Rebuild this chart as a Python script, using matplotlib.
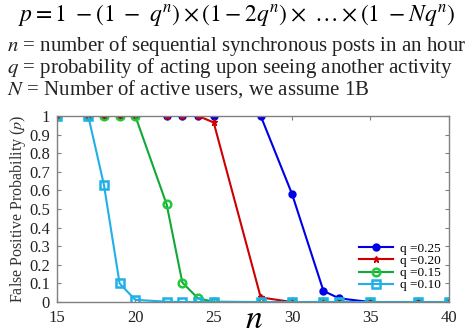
import matplotlib
matplotlib.use("Agg")
import matplotlib.pyplot as plt

n_vals = [15, 17, 18, 19, 20, 22, 23, 24, 25, 28, 30, 32, 33, 35, 38, 40]
p_q025 = [1, 1, 1, 1, 1, 1, 1, 1, 1, 1, 0.58, 0.06, 0.02, 0.0, 0.0, 0.0]
p_q020 = [1, 1, 1, 1, 1, 1, 1, 1, 0.965, 0.025, 0.0, 0.0, 0.0, 0.0, 0.0, 0.0]
p_q015 = [1, 1, 1, 1, 1, 0.525, 0.105, 0.02, 0.002, 0.0, 0.0, 0.0, 0.0, 0.0, 0.0, 0.0]
p_q010 = [1, 1, 0.63, 0.10, 0.012, 0.002, 0.0, 0.0, 0.0, 0.0, 0.0, 0.0, 0.0, 0.0, 0.0, 0.0]
labels = ["q =0.25", "q =0.20", "q =0.15", "q =0.10"]
xticks = [15, 20, 25, 30, 35, 40]
yticks = [0, 0.1, 0.2, 0.3, 0.4, 0.5, 0.6, 0.7, 0.8, 0.9, 1]
ytick_labels = ["0", "0.1", "0.2", "0.3", "0.4", "0.5", "0.6", "0.7", "0.8", "0.9", "1"]

plt.rcParams['font.family'] = ['Liberation Serif', 'DejaVu Serif']
plt.rcParams['mathtext.fontset'] = 'stix'

fig = plt.figure(figsize=(4.74, 3.36), dpi=100)
ax = fig.add_axes([0.120, 0.101, 0.827, 0.554])

ax.plot(n_vals, p_q025, color='#0000e6', lw=1.5, marker='o', ms=5, mfc='#0000e6', mec='#0000e6', label=labels[0])
ax.plot(n_vals, p_q020, color='#cc0000', lw=1.5, marker='*', ms=4.5, mfc='#cc0000', mec='#cc0000', label=labels[1])
ax.plot(n_vals, p_q015, color='#11a83a', lw=1.5, marker='o', ms=5.5, mfc='none', mec='#22c83a', mew=1.8, label=labels[2])
ax.plot(n_vals, p_q010, color='#1fb0e8', lw=1.5, marker='s', ms=5.5, mfc='none', mec='#1fb0e8', mew=1.8, label=labels[3])

ax.set_xlim(15, 40)
ax.set_ylim(0, 1)
ax.set_xticks(xticks)
ax.set_yticks(yticks)
ax.set_yticklabels(ytick_labels)
for s in ax.spines.values():
    s.set_color('#808080')
    s.set_linewidth(1.0)
ax.tick_params(direction='in', length=3, color='#808080', labelsize=12, labelcolor='#222222',
               top=True, right=True)
ax.tick_params(axis='x', pad=6)
ax.tick_params(axis='y', pad=5)

fig.text(254 / 474, 1 - 320 / 336, r'$n$', fontsize=24, ha='center', va='center')
ax.set_ylabel(r'False Positive Probability ($p$)', fontsize=11.5, color='#333333', labelpad=1)

leg = ax.legend(loc='lower right', bbox_to_anchor=(1.0, 0.015), frameon=False, fontsize=9.5,
                handlelength=2.6, labelspacing=0.0, handletextpad=0.5, borderaxespad=0.2)

fig.text(0.5, 0.955, r'$p = 1\ -(1\ -\ q^n) \times (1 - 2q^n) \times\ \ldots \times (1\ - Nq^n)$',
         ha='center', va='center', fontsize=17)
fig.text(0.015, 0.862, r'$n$ = number of sequential synchronous posts in an hour', fontsize=15, va='center', color='#222222')
fig.text(0.015, 0.797, r'$q$ = probability of acting upon seeing another activity', fontsize=15, va='center', color='#222222')
fig.text(0.015, 0.734, r'$N$ = Number of active users, we assume 1B', fontsize=15, va='center', color='#222222')

fig.savefig('out.png', dpi=100)
